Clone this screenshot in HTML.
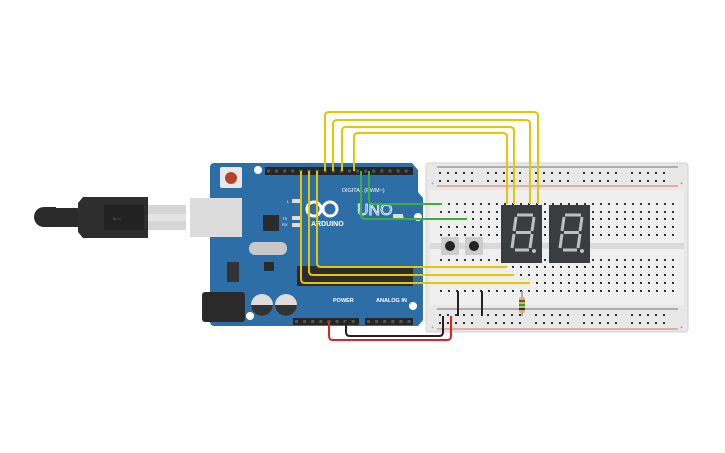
<!DOCTYPE html>
<html><head><meta charset="utf-8"><style>
html,body{margin:0;padding:0;background:#fff;width:725px;height:453px;overflow:hidden}
svg{display:block}
text{font-family:"Liberation Sans",sans-serif}
</style></head><body>
<svg id="s" width="725" height="453" viewBox="0 0 725 453" xmlns="http://www.w3.org/2000/svg">
<!-- USB cable -->
<path d="M44 207 h12 v20 h-12 a10 10 0 0 1 0 -20z" fill="#2b2b2b"/>
<rect x="54" y="208" width="25" height="19" rx="2" fill="#2b2b2b"/>
<path d="M78 203 l5 -6 h65 v41 h-65 l-5 -6z" fill="#2e2e2e"/>
<rect x="104" y="205" width="40" height="25" fill="#222"/>
<text x="112" y="222" font-size="12" fill="#444">⭠</text>
<rect x="148" y="205" width="38" height="25" fill="#d6d6d6"/>
<rect x="148" y="214" width="38" height="7" fill="#e4e4e4"/>
<!-- breadboard -->
<rect x="426" y="163" width="262" height="169" rx="3" fill="#e8e8e8" stroke="#cfcfcf"/>
<rect x="430" y="190" width="254" height="115" fill="#efefef"/>
<rect x="430" y="243" width="254" height="6" fill="#d9d9d9"/>
<line x1="437" y1="167" x2="678" y2="167" stroke="#999" stroke-width="1.5"/>
<line x1="437" y1="186" x2="678" y2="186" stroke="#d99" stroke-width="1.5"/>
<line x1="437" y1="309" x2="678" y2="309" stroke="#999" stroke-width="1.5"/>
<line x1="437" y1="329" x2="678" y2="329" stroke="#d99" stroke-width="1.5"/>
<g id="dots" fill="#333"></g>
<g font-size="5" fill="#888">
<text x="431" y="185">+</text><text x="680" y="185">+</text>
<text x="431" y="329">+</text><text x="680" y="329">+</text>
</g>
<!-- Arduino -->
<path d="M214 163 H412 L418 170 V192 L423 198 V320 L418 326 H214 a4 4 0 0 1 -4 -4 V167 a4 4 0 0 1 4 -4z" fill="#2e6ea6"/>
<circle cx="258" cy="170" r="4" fill="#fff"/>
<circle cx="418" cy="217" r="4" fill="#fff"/>
<circle cx="413" cy="306" r="4" fill="#fff"/>
<circle cx="250" cy="316" r="4" fill="#fff"/>
<rect x="220" y="167" width="22" height="21" rx="2" fill="#e8e8e8"/>
<circle cx="231" cy="178" r="6" fill="#b5432e"/>
<rect x="190" y="198" width="52" height="39" fill="#dcdcdc"/>
<rect x="265" y="167" width="148" height="8" fill="#262626"/>
<rect x="293" y="318" width="66" height="7" fill="#262626"/>
<rect x="365" y="318" width="48" height="7" fill="#262626"/>
<g id="pins" fill="#555"></g>
<rect x="263" y="215" width="16" height="16" fill="#2b2b2b"/>
<rect x="249" y="242" width="38" height="13" rx="6" fill="#c8c8c8"/>
<rect x="264" y="262" width="10" height="9" fill="#2b2b2b"/>
<rect x="227" y="262" width="12" height="20" fill="#333"/>
<rect x="202" y="292" width="43" height="30" rx="3" fill="#2a2a2a"/>
<circle cx="262" cy="305" r="11" fill="#ddd"/><path d="M251 305 a11 11 0 0 0 22 0z" fill="#333"/>
<circle cx="286" cy="305" r="11" fill="#ddd"/><path d="M275 305 a11 11 0 0 0 22 0z" fill="#333"/>
<rect x="297" y="266" width="116" height="20" fill="#2b2b2b"/>
<circle cx="314" cy="209" r="7" fill="none" stroke="#fff" stroke-width="3"/>
<circle cx="330" cy="209" r="7" fill="none" stroke="#fff" stroke-width="3"/>
<text x="311" y="226" font-size="7" font-weight="bold" fill="#fff">ARDUINO</text>
<text x="357" y="215" font-size="16" fill="none" stroke="#fff" stroke-width="0.8">UNO</text>
<text x="342" y="192" font-size="5.5" fill="#fff">DIGITAL (PWM~)</text>
<text x="333" y="302" font-size="5.5" font-weight="bold" fill="#fff">POWER</text>
<text x="376" y="302" font-size="5.5" font-weight="bold" fill="#fff">ANALOG IN</text>
<text x="398" y="219" font-size="4" fill="#fff">ON</text>
<text x="282" y="220" font-size="4" fill="#fff">TX</text>
<text x="282" y="226" font-size="4" fill="#fff">RX</text>
<text x="287" y="203" font-size="4" fill="#fff">L</text>
<rect x="292" y="199" width="8" height="4" fill="#ddd"/><rect x="292" y="216" width="8" height="4" fill="#ddd"/><rect x="292" y="223" width="8" height="4" fill="#ddd"/>
<rect x="393" y="214" width="10" height="4" fill="#ddd"/>
<g id="disp"></g>
<rect x="441" y="237" width="18" height="18" fill="#ccc"/><circle cx="450" cy="246" r="5" fill="#222"/>
<rect x="465" y="237" width="18" height="18" fill="#ccc"/><circle cx="474" cy="246" r="5" fill="#222"/>
<line x1="522" y1="291" x2="522" y2="316" stroke="#999" stroke-width="1.5"/>
<rect x="519" y="297" width="6" height="16" rx="2" fill="#d9b27a"/>
<rect x="519" y="300" width="6" height="2" fill="#8b4513"/><rect x="519" y="304" width="6" height="2" fill="#2a2"/><rect x="519" y="308" width="6" height="2" fill="#333"/>
<g fill="none" stroke-linejoin="round">
<path d="M458 291V316M482 291V316" stroke="#222" stroke-width="2"/>
<path d="M325 171V116q0-4 4-4H534q4 0 4 4V204" stroke="#e8c500" stroke-width="2"/>
<path d="M333 171V124q0-4 4-4H526q4 0 4 4V204" stroke="#e8c500" stroke-width="2"/>
<path d="M342 171V131q0-4 4-4H510q4 0 4 4V204" stroke="#e8c500" stroke-width="2"/>
<path d="M354 171V137q0-4 4-4H503q4 0 4 4V204" stroke="#e8c500" stroke-width="2"/>
<path d="M369 171V200q0 4 4 4H442" stroke="#3bb03b" stroke-width="2"/>
<path d="M361 171V215q0 4 4 4H467" stroke="#3bb03b" stroke-width="2"/>
<path d="M317 171V263q0 4 4 4H507" stroke="#e8c500" stroke-width="2"/>
<path d="M309 171V271q0 4 4 4H514" stroke="#e8c500" stroke-width="2"/>
<path d="M301 171V279q0 4 4 4H530" stroke="#e8c500" stroke-width="2"/>
<path d="M329 321V336q0 4 4 4H447q4 0 4-4V316" stroke="#d22" stroke-width="2"/>
<path d="M346 321V332q0 4 4 4H439q4 0 4-4V316" stroke="#222" stroke-width="2"/>
</g>
</svg>
<script>
var ns="http://www.w3.org/2000/svg",g=document.getElementById("dots");
function d(x,y){var c=document.createElementNS(ns,"rect");c.setAttribute("x",x-1);c.setAttribute("y",y-1);c.setAttribute("width",2);c.setAttribute("height",2);g.appendChild(c);}
for(var i=0;i<30;i++){var x=441+i*8;[204,212,219,227,235,260,267,275,283,291].forEach(function(y){d(x,y)});}
for(var k=0;k<5;k++)for(var j=0;j<5;j++){var x=440+k*48+j*8;[173,181,315,323].forEach(function(y){d(x,y)});}
var P=document.getElementById("pins");
function pin(x,y){var c=document.createElementNS(ns,"rect");c.setAttribute("x",x);c.setAttribute("y",y);c.setAttribute("width",3);c.setAttribute("height",3);P.appendChild(c);}
for(var i=0;i<18;i++)pin(267+i*8.1,169.5);
for(var i=0;i<8;i++)pin(295+i*8.1,320);
for(var i=0;i<6;i++)pin(367+i*8.1,320);
var D=document.getElementById("disp");
[501,549].forEach(function(x0){
 var r=document.createElementNS(ns,"rect");r.setAttribute("x",x0);r.setAttribute("y",205);r.setAttribute("width",41);r.setAttribute("height",58);r.setAttribute("fill","#3a3d3f");D.appendChild(r);
 var p=document.createElementNS(ns,"path");
 var a=x0+14,b=215;
 p.setAttribute("d","M"+(a+2)+" "+b+"h16 M"+(a+19)+" "+(b+2)+"l-2 14 M"+(a+17)+" "+(b+19)+"l-2 14 M"+(a)+" "+(b+35)+"h14 M"+(a-3)+" "+(b+33)+"l2 -14 M"+(a-1)+" "+(b+16)+"l2 -14 M"+(a+1)+" "+(b+17.5)+"h15");
 p.setAttribute("stroke","#bfbfbf");p.setAttribute("stroke-width","3");p.setAttribute("fill","none");D.appendChild(p);
 var c=document.createElementNS(ns,"circle");c.setAttribute("cx",x0+33);c.setAttribute("cy",251);c.setAttribute("r",2);c.setAttribute("fill","#bfbfbf");D.appendChild(c);
});
</script>
</body></html>
